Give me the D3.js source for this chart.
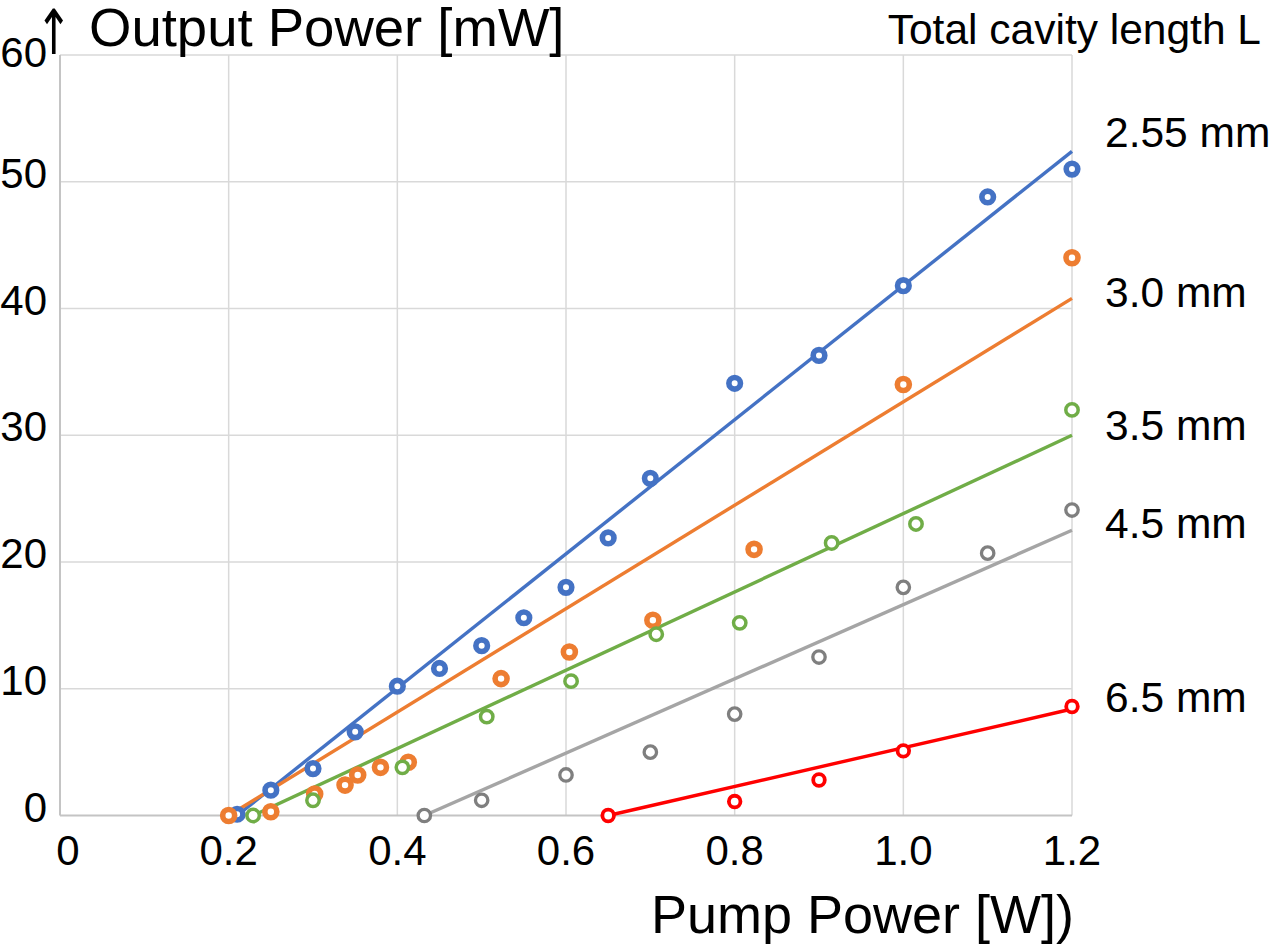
<!DOCTYPE html>
<html>
<head>
<meta charset="utf-8">
<script src="https://cdn.jsdelivr.net/npm/d3@7"></script>
<style>
  body { margin: 0; background: #fff; }
  svg { display: block; font-family: "Liberation Sans", Arial, sans-serif; }
</style>
</head>
<body>
<svg id="chart"></svg>
<script>
// measured points [pump W, output mW] for each cavity length
const pts255 = [[0.21, 0.1], [0.25, 2.0], [0.3, 3.7], [0.35, 6.6], [0.4, 10.2], [0.45, 11.6], [0.5, 13.4],
    [0.55, 15.6], [0.6, 18.0], [0.65, 21.9], [0.7, 26.6], [0.8, 34.1], [0.9, 36.3], [1.0, 41.8], [1.1, 48.8], [1.2, 51.0]];
const pts30 = [[0.2, 0], [0.25, 0.3], [0.302, 1.7], [0.338, 2.4], [0.353, 3.2], [0.38, 3.8], [0.413, 4.2],
    [0.523, 10.8], [0.604, 12.9], [0.703, 15.4], [0.823, 21.0], [1.0, 34.0], [1.2, 44.0]];
const pts35 = [[0.229, 0], [0.3, 1.2], [0.406, 3.8], [0.506, 7.8], [0.606, 10.6], [0.707, 14.3], [0.806, 15.2],
    [0.915, 21.5], [1.015, 23.0], [1.2, 32.0]];
const pts45 = [[0.432, 0], [0.5, 1.2], [0.6, 3.2], [0.7, 5.0], [0.8, 8.0], [0.9, 12.5], [1.0, 18.0], [1.1, 20.7], [1.2, 24.1]];
const pts65 = [[0.65, 0], [0.8, 1.1], [0.9, 2.8], [1.0, 5.1], [1.2, 8.6]];

// fitted lines, start and end
const fit255 = [[0.21, 0], [1.2, 52.4]];
const fit30 = [[0.2, 0], [1.2, 40.8]];
const fit35 = [[0.229, 0], [1.2, 30.0]];
const fit45 = [[0.432, 0], [1.2, 22.5]];
const fit65 = [[0.65, 0], [1.2, 8.4]];

const seriesNames = ['2.55 mm', '3.0 mm', '3.5 mm', '4.5 mm', '6.5 mm'];
const labelValues = [53.9, 41.3, 30.8, 23.1, 9.35];

const xTicks = [0, 0.2, 0.4, 0.6, 0.8, 1.0, 1.2];
const xTickLabels = ['0', '0.2', '0.4', '0.6', '0.8', '1.0', '1.2'];
const yTicks = [0, 10, 20, 30, 40, 50, 60];

const width = 1270, height = 944;
const svg = d3.select('#chart').attr('width', width).attr('height', height);

const x = d3.scaleLinear().domain([0, 1.2]).range([60, 1072]);
const y = d3.scaleLinear().domain([0, 60]).range([815.5, 55]);

const series = [
    { name: seriesNames[0], pts: pts255, fit: fit255, color: '#4472C4', line: '#4472C4', r: 5.8, sw: 5.6 },
    { name: seriesNames[1], pts: pts30, fit: fit30, color: '#ED7D31', line: '#ED7D31', r: 6, sw: 5.6 },
    { name: seriesNames[2], pts: pts35, fit: fit35, color: '#70AD47', line: '#70AD47', r: 6.2, sw: 3.5 },
    { name: seriesNames[3], pts: pts45, fit: fit45, color: '#7F7F7F', line: '#A5A5A5', r: 6.2, sw: 3.3 },
    { name: seriesNames[4], pts: pts65, fit: fit65, color: '#FF0000', line: '#FF0000', r: 5.8, sw: 3.8 }
];

// grid
svg.append('g').selectAll('line')
    .data(xTicks.slice(1))
    .enter().append('line')
    .attr('x1', d => x(d)).attr('x2', d => x(d))
    .attr('y1', y(0)).attr('y2', y(60))
    .attr('stroke', '#d9d9d9').attr('stroke-width', 1.5);

svg.append('g').selectAll('line')
    .data(yTicks.slice(1))
    .enter().append('line')
    .attr('x1', x(0)).attr('x2', x(1.2))
    .attr('y1', d => y(d)).attr('y2', d => y(d))
    .attr('stroke', '#d9d9d9').attr('stroke-width', 1.5);

// axis lines
svg.append('line')
    .attr('x1', x(0)).attr('x2', x(0)).attr('y1', y(0)).attr('y2', y(60))
    .attr('stroke', '#c4c4c4').attr('stroke-width', 2);
svg.append('line')
    .attr('x1', x(0)).attr('x2', x(1.2)).attr('y1', y(0)).attr('y2', y(0))
    .attr('stroke', '#c4c4c4').attr('stroke-width', 2);

// tick labels
svg.append('g').selectAll('text')
    .data(xTicks)
    .enter().append('text')
    .attr('x', (d, i) => x(d) + (i === 0 ? 8 : 0))
    .attr('y', 865)
    .attr('text-anchor', 'middle')
    .attr('font-size', 42)
    .text((d, i) => xTickLabels[i]);

svg.append('g').selectAll('text')
    .data(yTicks)
    .enter().append('text')
    .attr('x', 47)
    .attr('y', d => y(d) + (d === 60 ? 12 : 6))
    .attr('text-anchor', 'end')
    .attr('font-size', 42)
    .text(d => d);

// fit lines
const line = d3.line().x(d => x(d[0])).y(d => y(d[1]));

svg.append('g').selectAll('path')
    .data(series)
    .enter().append('path')
    .attr('d', d => line(d.fit))
    .attr('fill', 'none')
    .attr('stroke', d => d.line)
    .attr('stroke-width', 3.4);

// markers
series.forEach(s => {
    svg.append('g').selectAll('circle')
        .data(s.pts)
        .enter().append('circle')
        .attr('cx', d => x(d[0]))
        .attr('cy', d => y(d[1]))
        .attr('r', s.r)
        .attr('fill', '#fff')
        .attr('stroke', s.color)
        .attr('stroke-width', s.sw);
});

// series labels
svg.append('g').selectAll('text')
    .data(series)
    .enter().append('text')
    .attr('x', 1105)
    .attr('y', (d, i) => y(labelValues[i]) + 15)
    .attr('font-size', 42.5)
    .text(d => d.name);

// titles
svg.append('text')
    .attr('x', 54).attr('y', 54)
    .attr('text-anchor', 'middle')
    .attr('font-family', '"DejaVu Sans"')
    .attr('transform', 'translate(54,54) scale(0.7,1) translate(-54,-54)')
    .attr('font-size', 62)
    .text('↑');
svg.append('text')
    .attr('x', 89).attr('y', 46)
    .attr('font-size', 54.5)
    .text('Output Power [mW]');
svg.append('text')
    .attr('x', 1261).attr('y', 44)
    .attr('text-anchor', 'end')
    .attr('font-size', 42.5)
    .text('Total cavity length L');
svg.append('text')
    .attr('x', 1074).attr('y', 933)
    .attr('text-anchor', 'end')
    .attr('font-size', 54)
    .text('Pump Power [W])');
</script>
</body>
</html>
